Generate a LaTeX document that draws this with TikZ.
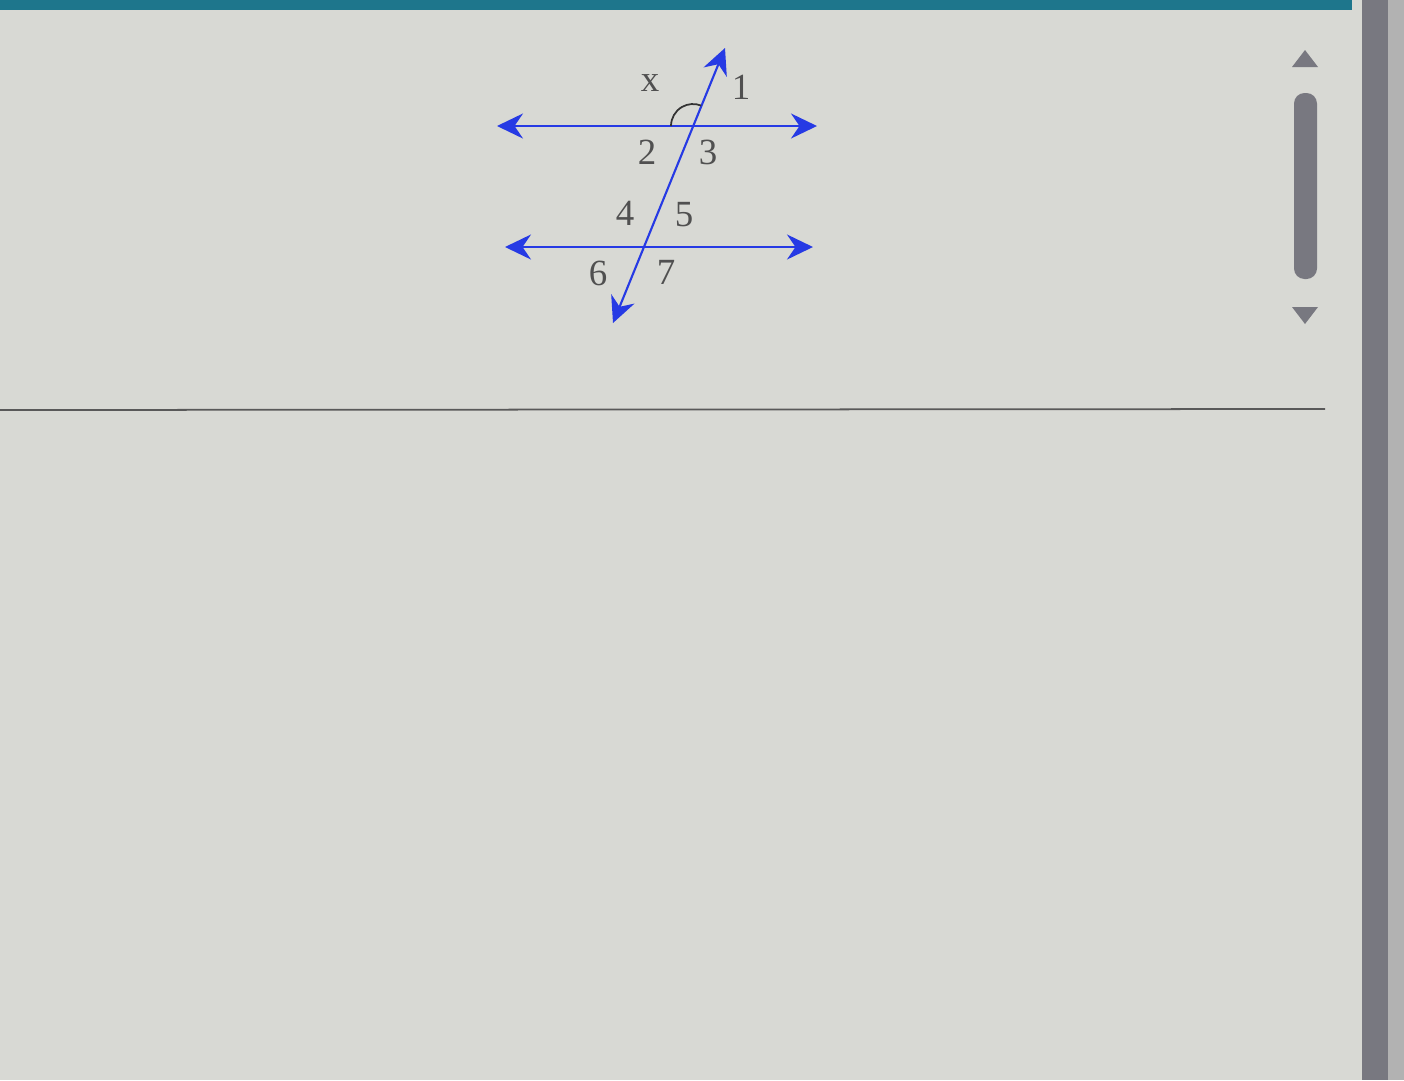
\documentclass[tikz,border=0pt]{standalone}
\usepackage{fontspec}
\setmainfont{Liberation Serif}
\usetikzlibrary{arrows.meta}
\definecolor{lineblue}{RGB}{38,58,228}
\definecolor{labelgray}{RGB}{80,80,80}
\definecolor{screen}{RGB}{216,217,212}
\definecolor{topbar}{RGB}{30,118,140}
\definecolor{barmid}{RGB}{120,120,128}
\tikzstyle{line}=[draw=lineblue, line width=1.2pt, {Stealth[length=0.52cm,width=0.5cm,inset=0.17cm]}-{Stealth[length=0.52cm,width=0.5cm,inset=0.17cm]}]
\tikzstyle{lbl}=[text=labelgray, inner sep=0pt, font=\fontsize{21}{25}\selectfont]
\tikzstyle{angle}=[draw=black!80, line width=1pt]

\begin{document}
\begin{tikzpicture}[x=0.02cm,y=-0.02cm]
				%The screen
				\useasboundingbox (0,0) rectangle (1404,1080);
				\fill[screen] (0,0) rectangle (1404,1080);
				\fill[topbar] (0,0) rectangle (1352,10);
				\fill[barmid] (1362,0) rectangle (1388,1080);
				\fill[gray!60] (1388,0) rectangle (1404,1080);
				\draw[black!65, line width=1pt] (0,410) -- (1325,409);
				
				%The scrollbar
				\fill[barmid] (1305,50) -- (1318,67) -- (1292,67) -- cycle;
				\fill[barmid, rounded corners=6pt] (1294,93) rectangle (1317,279);
				\fill[barmid] (1292,307) -- (1318,307) -- (1305,324) -- cycle;
				
				%The lines
				\coordinate (a1) at (497,126);
				\coordinate (a2) at (817,126);
				\coordinate (b1) at (505,247);
				\coordinate (b2) at (813,247);
				\coordinate (t1) at (725,48);
				\coordinate (t2) at (613,323);
				\coordinate (p) at (693,126);
				
				\draw[line] (a1) -- (a2);
				\draw[line] (b1) -- (b2);
				\draw[line] (t2) -- (t1);
				
				%The angle x
				\draw[angle] (p) ++(-22,0) arc[start angle=180, end angle=68, radius=0.44cm];
				
				%The labels
				\draw (650,83) node[lbl] (lx) {x};
				\draw (741,87) node[lbl] (l1) {1};
				\draw (647,152) node[lbl] (l2) {2};
				\draw (708,152) node[lbl] (l3) {3};
				\draw (625,213) node[lbl] (l4) {4};
				\draw (684,215) node[lbl] (l5) {5};
				\draw (598,273) node[lbl] (l6) {6};
				\draw (666,272) node[lbl] (l7) {7};
			\end{tikzpicture}
\end{document}
